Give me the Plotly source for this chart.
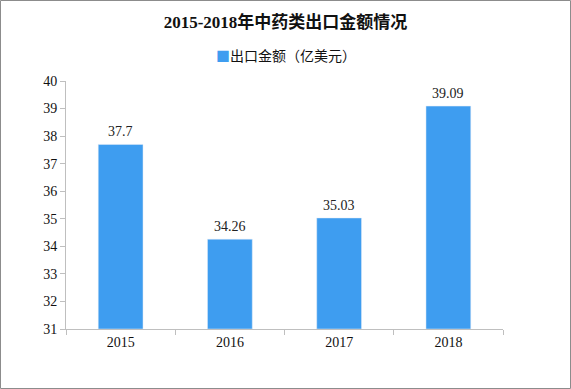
import plotly.graph_objects as go

years = ["2015", "2016", "2017", "2018"]
values = [37.7, 34.26, 35.03, 39.09]
labels = ["37.7", "34.26", "35.03", "39.09"]
yticks = list(range(31, 41))

W, H = 571, 389
L, R, T, B = 66, 68, 81, 60
pw, ph = W - L - R, H - T - B

fig = go.Figure()
fig.add_trace(go.Bar(
    x=years, y=[v - 31 for v in values], base=31,
    name="出口金额（亿美元）",
    marker=dict(color="#3E9DF0"),
    width=0.41, showlegend=False,
))
for i, (v, lb) in enumerate(zip(values, labels)):
    fig.add_annotation(x=i, y=v, text=lb, showarrow=False, yanchor="bottom", yshift=3,
                       font=dict(size=14, color="#222", family="Liberation Serif, Noto Sans CJK SC"))

fig.update_layout(
    width=W, height=H,
    margin=dict(l=L, r=R, t=T, b=B, autoexpand=False),
    paper_bgcolor="white", plot_bgcolor="white",
    title=dict(text="<b>2015-2018年中药类出口金额情况</b>", x=0.5, xanchor="center", y=1 - 22 / H, yanchor="middle",
               font=dict(size=17, color="#111", family="Liberation Serif, Noto Sans CJK SC")),
    showlegend=False,
    font=dict(family="Liberation Serif, Noto Sans CJK SC", size=14, color="#111"),
)
fig.add_annotation(xref="paper", yref="paper", x=(286 - L) / pw, y=1 + (T - 55) / ph,
                   text="<span style='color:#3E9DF0'>■</span>出口金额（亿美元）",
                   showarrow=False, xanchor="center", yanchor="middle",
                   font=dict(size=14, color="#111", family="Noto Sans CJK SC"))
fig.update_xaxes(type="category", range=[-0.5, len(years) - 0.5],
                 showline=True, linecolor="#BFBFBF", linewidth=1, ticks="outside", tickcolor="#BFBFBF",
                 ticklen=5, tickson="boundaries", showgrid=False, tickangle=0,
                 tickfont=dict(size=14, color="#111"))
fig.update_yaxes(range=[31, 40], tickvals=yticks, showline=True, linecolor="#BFBFBF", linewidth=1,
                 ticks="outside", tickcolor="#BFBFBF", ticklen=5, showgrid=False, zeroline=False,
                 tickfont=dict(size=14, color="#111"))
fig.add_shape(type="rect", xref="paper", yref="paper",
              x0=-(L - 0.5) / pw, x1=1 + (R - 0.5) / pw, y0=-(B - 0.5) / ph, y1=1 + (T - 0.5) / ph,
              line=dict(color="#8C8C8C", width=1), layer="below")
fig.write_html("out.html")
